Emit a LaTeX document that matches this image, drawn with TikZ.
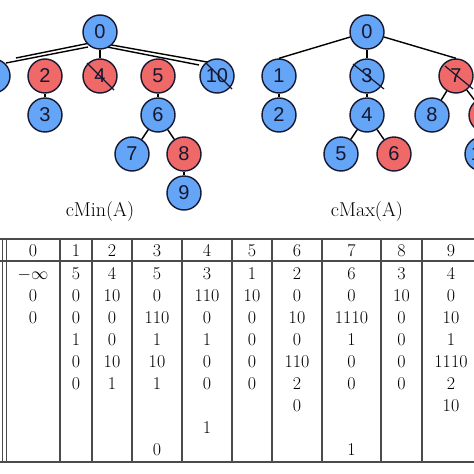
\documentclass[tikz,border=0pt]{standalone}
\usepackage{fontspec}
\newfontfamily\digfont{Liberation Sans}
\definecolor{nblue}{RGB}{100,165,248}
\definecolor{nred}{RGB}{240,105,105}
\definecolor{nline}{RGB}{22,24,48}
\definecolor{tline}{RGB}{75,75,75}
\newcommand\mytcol[3]{\foreach \v [count=\r from 0] in {#3} {\node[tcell] (t#1r\r) at (#2,273+22*\r) {\v};}}
\begin{document}
\begin{tikzpicture}[x=1pt,y=-1pt,
  tn/.style={circle,draw=nline,line width=1.4pt,minimum size=34pt,inner sep=0pt,
    font=\digfont\fontsize{20}{20}\selectfont,text=nline},
  bn/.style={tn,fill=nblue},
  rn/.style={tn,fill=nred},
  edgeln/.style={line width=1.4pt,draw=black},
  crossln/.style={line width=1.2pt,draw=nline},
  caplbl/.style={font=\fontsize{20}{24}\selectfont},
  tcell/.style={inner sep=0pt,text height=12pt,text depth=0pt,font=\fontsize{18}{20}\selectfont},
  tl/.style={line width=1.3pt,draw=tline}]
\useasboundingbox (0,0) rectangle (474,474);
\clip (0,0) rectangle (474,474);
\fill[white] (0,0) rectangle (474,474);

% ---------- left tree cMin(A)
\coordinate (la1) at (6,63);   \coordinate (la2) at (88,47);
\coordinate (lb1) at (16,58);  \coordinate (lb2) at (90,43);
\coordinate (ra1) at (106,44); \coordinate (ra2) at (207,62);
\coordinate (rb1) at (107,47); \coordinate (rb2) at (199,65);
\draw[edgeln] (la1) -- (la2);
\draw[edgeln] (lb1) -- (lb2);
\draw[edgeln] (ra1) -- (ra2);
\draw[edgeln] (rb1) -- (rb2);
\node[bn] (l0) at (100,32) {0};
\node[bn] (l1) at (-7,76) {1};
\node[rn] (l2) at (45,76) {2};
\node[rn] (l4) at (100,76) {4};
\node[rn] (l5) at (158,76) {5};
\node[bn] (l10) at (217,76) {10};
\node[bn] (l3) at (45,115) {3};
\node[bn] (l6) at (158,115) {6};
\node[bn] (l7) at (132,154) {7};
\node[rn] (l8) at (184,154) {8};
\node[bn] (l9) at (184,193) {9};
\draw[edgeln] (l0) -- (l4);
\draw[edgeln] (l2) -- (l3);
\draw[edgeln] (l5) -- (l6);
\draw[edgeln] (l6) -- (l7);
\draw[edgeln] (l6) -- (l8);
\draw[edgeln] (l8) -- (l9);
\draw[crossln] ([shift={(-13,-13)}]l4.center) -- ([shift={(14,14)}]l4.center);
\draw[crossln] ([shift={(-11,-13)}]l10.center) -- ([shift={(15,13)}]l10.center);
\node[caplbl] (lmin) at (100,212) {cMin(A)};

% ---------- right tree cMax(A)
\node[bn] (r0) at (367,32) {0};
\node[bn] (r1) at (279,76) {1};
\node[bn] (r3) at (367,76) {3};
\node[rn] (r7) at (456,76) {7};
\node[bn] (r2) at (279,115) {2};
\node[bn] (r4) at (367,115) {4};
\node[bn] (r8) at (432,115) {8};
\node[rn] (r9) at (486,115) {9};
\node[bn] (r5) at (341,154) {5};
\node[rn] (r6) at (394,154) {6};
\node[bn] (r10) at (482,154) {10};
\draw[edgeln] (r0) -- (r1.north);
\draw[edgeln] (r0) -- (r3);
\draw[edgeln] (r0) -- (r7.north);
\draw[edgeln] (r1) -- (r2);
\draw[edgeln] (r3) -- (r4);
\draw[edgeln] (r4) -- (r5);
\draw[edgeln] (r4) -- (r6);
\draw[edgeln] (r7) -- (r8);
\draw[edgeln] (r7) -- (r9);
\draw[edgeln] (r9) -- (r10);
\draw[crossln] ([shift={(-14,-12)}]r3.center) -- ([shift={(17,13)}]r3.center);
\draw[crossln] ([shift={(-11,-10)}]r7.center) -- ([shift={(17,13)}]r7.center);
\node[caplbl] (rmax) at (367,212) {cMax(A)};

% ---------- table
\draw[tl] (0,239) -- (474,239);
\draw[tl] (0,261) -- (474,261);
\draw[tl] (0,462) -- (474,462);
\draw[line width=1.8pt,draw=tline] (2.5,239) -- (2.5,462);
\draw[line width=1.8pt,draw=tline] (6.5,239) -- (6.5,462);
\foreach \xx in {60,92,132,182,232,272,322,381,422}
  \draw[tl] (\xx,239) -- (\xx,462);
\foreach \hx [count=\hc from 0] in {33,76,112,157,207,252,297,351.5,401.5,451}
  \node[tcell] (h\hc) at (\hx,250) {\hc};
\mytcol{0}{33}{$-\infty$,0,0}
\mytcol{1}{76}{5,0,0,1,0,0}
\mytcol{2}{112}{4,10,0,0,10,1}
\mytcol{3}{157}{5,0,110,1,10,1,,,0}
\mytcol{4}{207}{3,110,0,1,0,0,,1}
\mytcol{5}{252}{1,10,0,0,0,0}
\mytcol{6}{297}{2,0,10,0,110,2,0}
\mytcol{7}{351.5}{6,0,1110,1,0,0,,,1}
\mytcol{8}{401.5}{3,10,0,0,0,0}
\mytcol{9}{451}{4,0,10,1,1110,2,10}
\end{tikzpicture}
\end{document}
